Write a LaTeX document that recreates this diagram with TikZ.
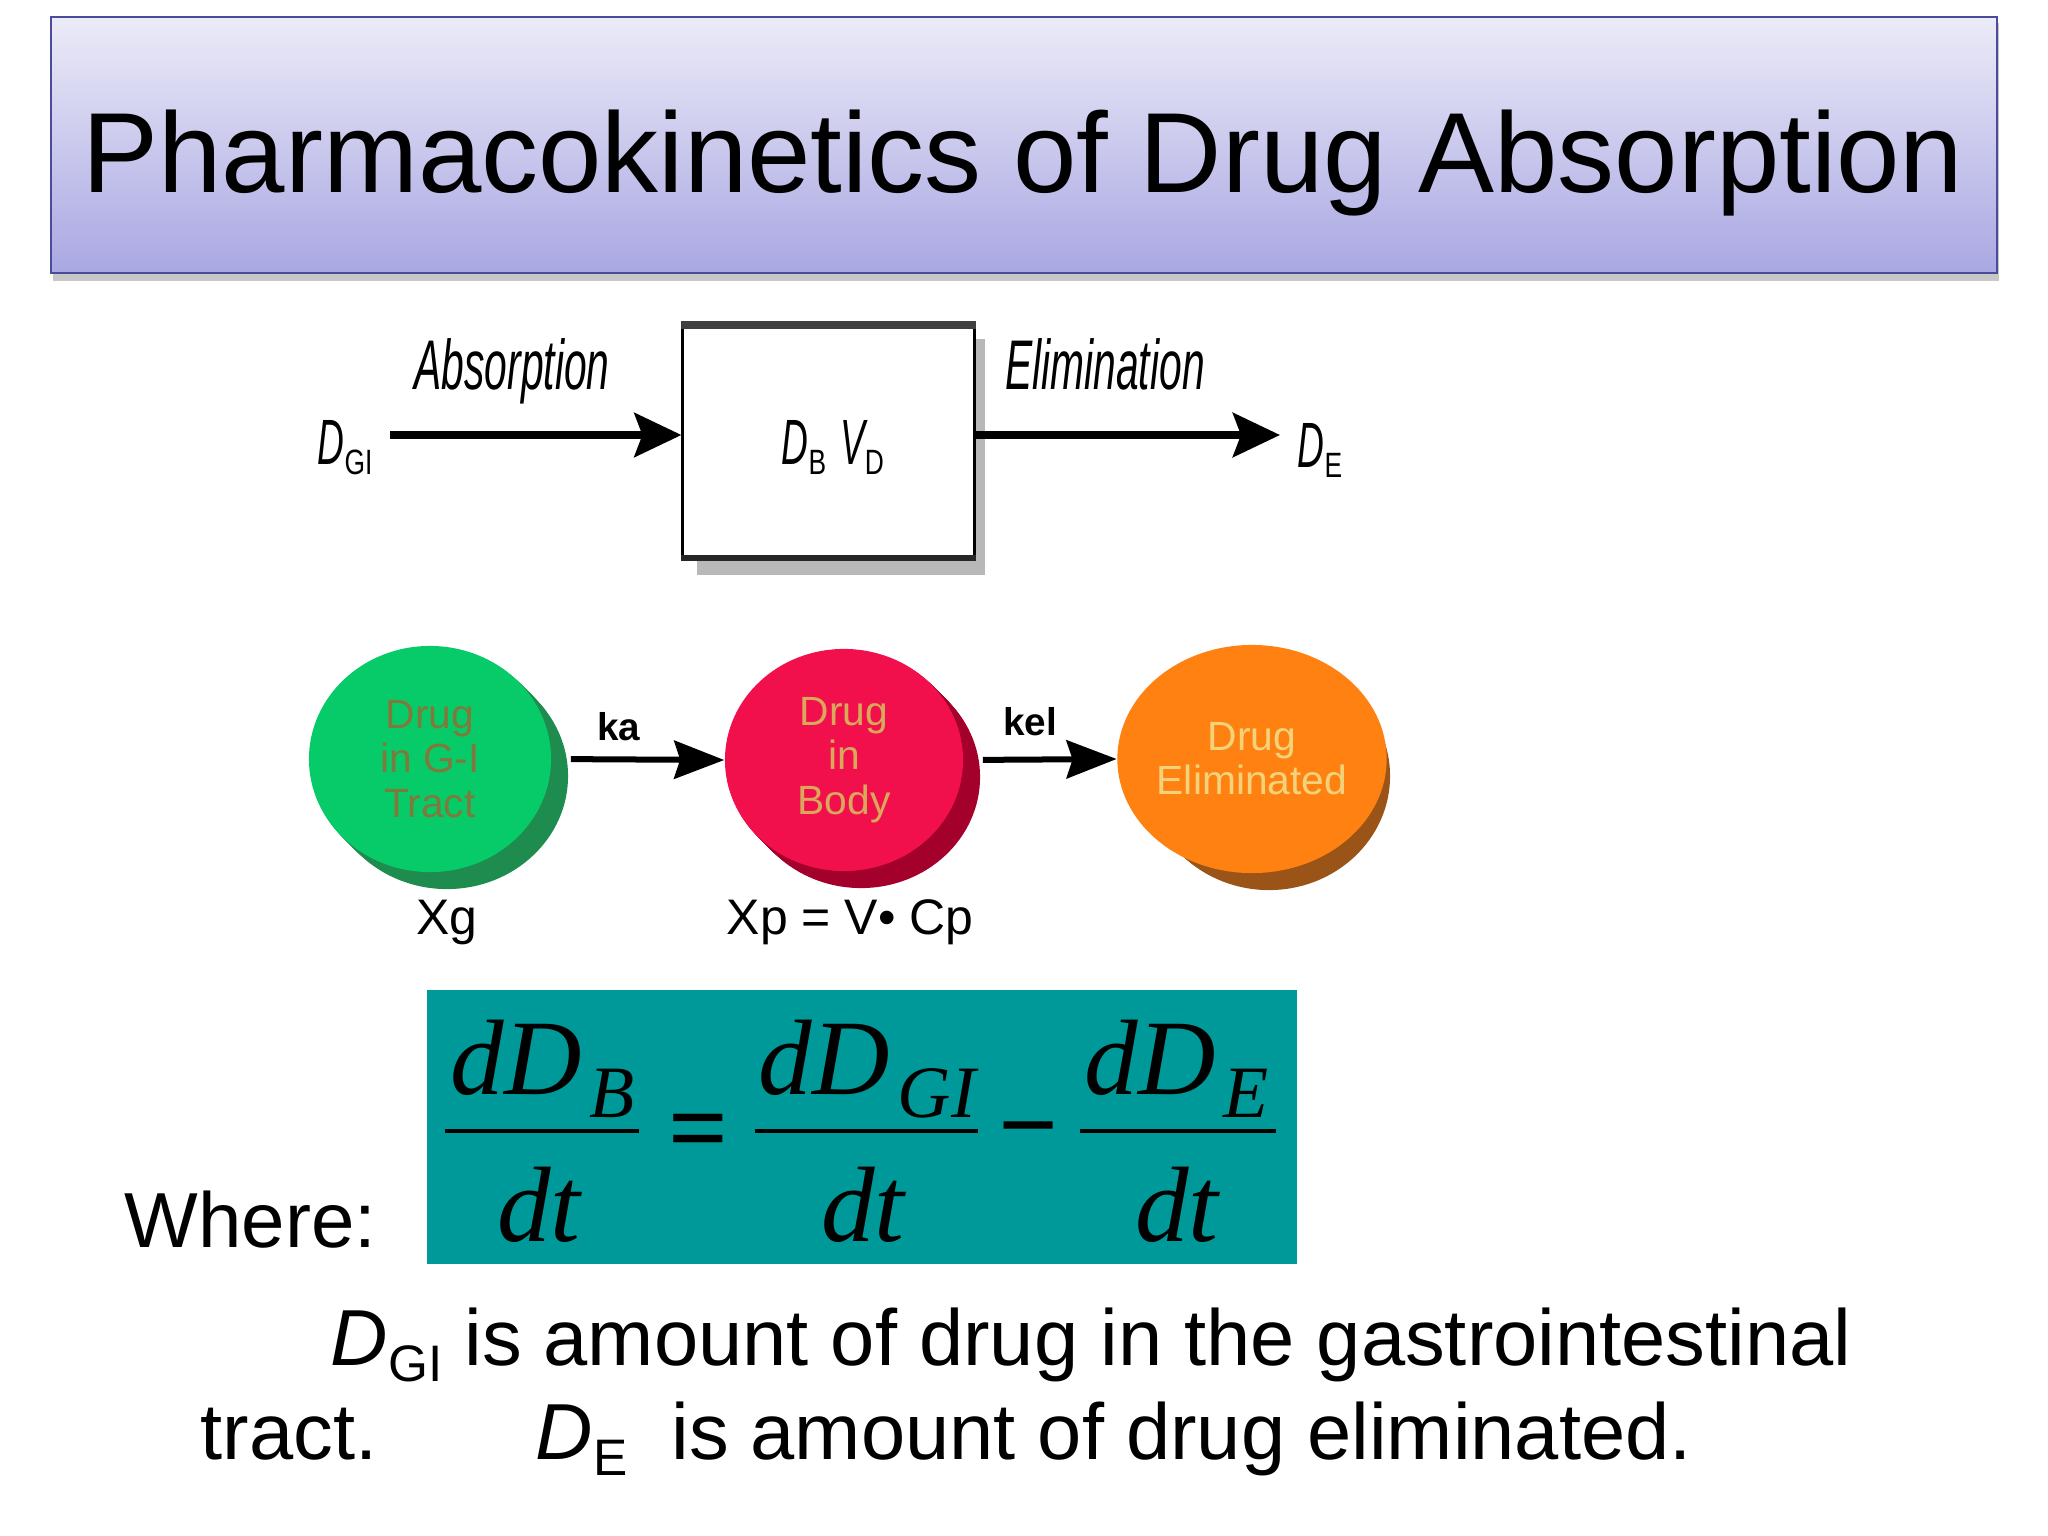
\documentclass[tikz,border=0pt]{standalone}
\usepackage{fontspec}
\usepackage{graphicx}
\setmainfont{Liberation Sans}
\newfontfamily\tnr{Liberation Serif}
\usetikzlibrary{arrows.meta,shapes.geometric}
\definecolor{titletop}{HTML}{ECEBF8}
\definecolor{titlebot}{HTML}{A9A7E2}
\definecolor{titleline}{HTML}{4B4B9C}
\definecolor{gface}{HTML}{07CB68}
\definecolor{gside}{HTML}{1E8C4E}
\definecolor{rface}{HTML}{F2104C}
\definecolor{rside}{HTML}{A4002C}
\definecolor{oface}{HTML}{FF8112}
\definecolor{oside}{HTML}{9A5418}
\definecolor{gtext}{HTML}{7F7A3C}
\definecolor{rtext}{HTML}{D9A85A}
\definecolor{otext}{HTML}{F2D37A}
\definecolor{eqteal}{HTML}{009999}
\newcommand\cond[1]{\scalebox{0.58}[1]{#1}}
\newcommand\condsub[1]{\scalebox{0.75}[1]{\fontsize{10}{10}\selectfont #1}}
\begin{document}
\begin{tikzpicture}[x=0.01cm,y=-0.01cm,
  bigarrow/.style={line width=0.075cm,-{Stealth[length=0.47cm,width=0.44cm,inset=0.08cm]}},
  smallarrow/.style={line width=0.06cm,-{Stealth[length=0.5cm,width=0.38cm,inset=0.06cm]}},
  topfont/.style={font=\fontsize{18.2}{18}\selectfont},
  disc/.style={ellipse,inner sep=0,minimum width=2.42cm,minimum height=2.26cm,align=center,
     font=\fontsize{11.6}{12.6}\selectfont},
  eqnum/.style={anchor=base west,inner sep=0,font=\tnr\itshape\fontsize{30.5}{32}\selectfont},
  eqden/.style={anchor=base,inner sep=0,font=\tnr\itshape\fontsize{30.5}{32}\selectfont},
  bar/.style={line width=0.04cm},
  body/.style={anchor=base west,inner sep=0,font=\fontsize{22.6}{27}\selectfont}]
\useasboundingbox (0,0) rectangle (2048,1536);
% title
\fill[black!22] (53,23) rectangle (1999,281);
\shade[top color=titletop,bottom color=titlebot,draw=titleline,line width=0.026cm]
  (51,17) rectangle (1997,273);
\node[font=\fontsize{32.4}{38}\selectfont,anchor=base,inner sep=0] (title) at (1023,192)
  {Pharmacokinetics of Drug Absorption};
% top block diagram
\fill[black!28] (697,339) rectangle (985,575);
\node[draw=black,line width=0.03cm,fill=white,minimum width=2.91cm,minimum height=2.36cm,inner sep=0]
  (box) at (828.5,441) {};
\fill[black!75] (box.north west) rectangle ([yshift=-0.08cm]box.north east);
\fill[black!85] ([yshift=0.06cm]box.south west) rectangle (box.south east);
\node[topfont,anchor=base west,inner sep=0] (dbvd) at (781,464)
  {\cond{\itshape D}\raisebox{-0.1cm}{\condsub{B}}\hspace{0.14cm}\cond{\itshape V}\raisebox{-0.1cm}{\condsub{D}}};
\node[topfont,anchor=base west,inner xsep=0.17cm,inner ysep=0] (dgi) at (300,464)
  {\cond{\itshape D}\raisebox{-0.1cm}{\condsub{GI}}};
\node[topfont,anchor=base west,inner xsep=0.17cm,inner ysep=0] (de) at (1280,467)
  {\cond{\itshape D}\raisebox{-0.1cm}{\condsub{E}}};
\node[font=\fontsize{20}{20}\selectfont\itshape,anchor=base,inner sep=0] (absl) at (512,389) {\cond{Absorption}};
\node[font=\fontsize{20}{20}\selectfont\itshape,anchor=base,inner sep=0] (elim) at (1105,389) {\cond{Elimination}};
\draw[bigarrow] ([yshift=0.06cm]dgi.east |- box.west) -- ([yshift=0.06cm]box.west);
\draw[bigarrow] ([yshift=0.06cm]box.east) -- ([yshift=0.06cm]box.east -| de.west);
% discs
\foreach \k in {1,...,17}{
  \fill[gside] (430+\k,759+\k) ellipse [x radius=1.21cm,y radius=1.13cm];
  \fill[rside] (844+\k,760+\k) ellipse [x radius=1.19cm,y radius=1.11cm];
  \fill[oside] (1252+\k,759+\k) ellipse [x radius=1.21cm,y radius=1.14cm];
}
\node[disc,fill=gface,text=gtext] (g) at (430,759) {Drug\\in G-I\\Tract};
\node[disc,fill=rface,text=rtext,minimum width=2.38cm,minimum height=2.22cm] (r) at (844,760) {Drug\\in\\Body};
\node[disc,fill=oface,text=otext,minimum height=2.28cm] (o) at (1252,759) {Drug\\Eliminated};
\draw[smallarrow,shorten <=0.19cm] (g.east) -- (r.west);
\draw[smallarrow,shorten <=0.19cm] (r.east) -- (o.west);
\node[font=\bfseries\fontsize{11}{11}\selectfont] (ka) at (619,727) {ka};
\node[font=\bfseries\fontsize{11}{11}\selectfont] (kel) at (1030,722) {kel};
\node[font=\fontsize{14.2}{15}\selectfont] (xg) at (447,922) {Xg};
\node[font=\fontsize{14.2}{15}\selectfont] (xp) at (850,922) {Xp = V• Cp};
% equation
\fill[eqteal] (427,990) rectangle (1297,1264);
\node[eqnum] (n1) at (450,1094) {dD\kern0.08cm\raisebox{-0.23cm}{\fontsize{21}{22}\selectfont B}};
\node[eqnum] (n2) at (758,1094) {dD\kern0.08cm\raisebox{-0.23cm}{\fontsize{21}{22}\selectfont GI}};
\node[eqnum] (n3) at (1084,1094) {dD\kern0.08cm\raisebox{-0.23cm}{\fontsize{21}{22}\selectfont E}};
\draw[bar] (445,1131) -- (639,1131);
\draw[bar] (755,1131) -- (978,1131);
\draw[bar] (1080,1131) -- (1276,1131);
\node[eqden] (d1) at (539,1241) {dt};
\node[eqden] (d2) at (863,1241) {dt};
\node[eqden] (d3) at (1177,1241) {dt};
\node[inner sep=0,font=\tnr\bfseries\fontsize{30}{32}\selectfont] (eq) at (699,1139) {=};
\node[inner sep=0,font=\tnr\bfseries\fontsize{30}{32}\selectfont] (minus) at (1029,1141) {−};
% text
\node[anchor=base west,inner sep=0,font=\fontsize{22.2}{27}\selectfont] (where) at (124,1247) {Where:};
\node[body] (l1) at (330,1365)
  {\textit{D}\raisebox{-0.16cm}{\fontsize{14.6}{15}\selectfont GI} is amount of drug in the gastrointestinal};
\node[body] (l2a) at (200,1459) {tract.};
\node[body] (l2b) at (535,1459)
  {\textit{D}\raisebox{-0.16cm}{\fontsize{14.6}{15}\selectfont E}\hspace{0.44cm}is amount of drug eliminated.};
\end{tikzpicture}
\end{document}
